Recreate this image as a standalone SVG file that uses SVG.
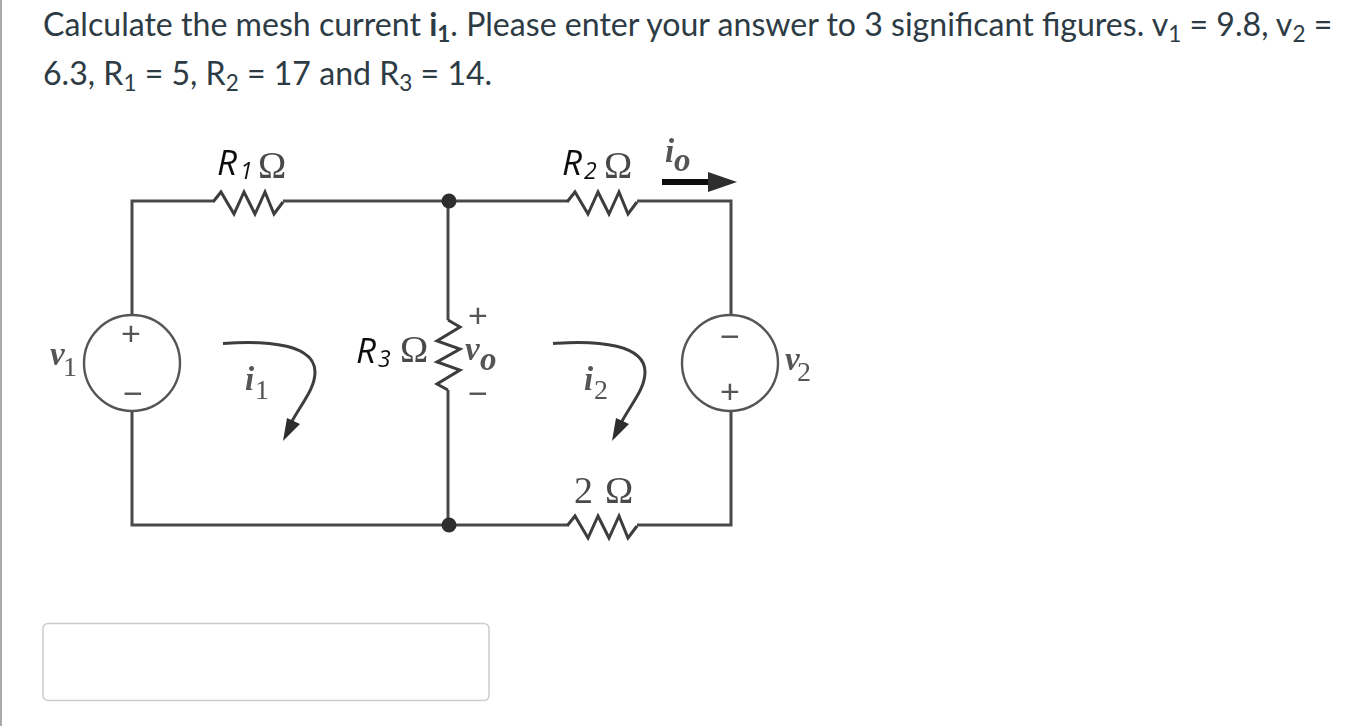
<svg xmlns="http://www.w3.org/2000/svg" width="1354" height="726" viewBox="0 0 1354 726">
<defs>
<filter id="soft" x="-5%" y="-5%" width="110%" height="110%"><feGaussianBlur stdDeviation="0.6"/></filter>
<path id="zig" d="M0 0 L8 -10 L21 12 L31 -10 L42 12 L52 -10 L61 12 L70 0"/>
<path id="mesh" d="M223 343.500 C270 340 315 345 315 372 C315 390 300 405 290 425"/>
<path id="meshhead" d="M283 441 L287 418 L300 424 Z"/>
</defs>
<style>
.q{font-family:"Lato","Open Sans",sans-serif;font-size:32.100px;fill:#2d3b45}
.w{fill:none;stroke:#4a4a4a;stroke-width:3}
.t{fill:none;stroke:#3d3d3d;stroke-width:3}
.c{fill:#fff;stroke:#555;stroke-width:2.400}
.n{fill:#2e2e2e}
.r{font-family:"Open Sans",sans-serif;font-style:italic;font-size:35px;fill:#111}
.rs{font-family:"Open Sans",sans-serif;font-style:italic;font-size:23px;fill:#111}
.o{font-family:"Liberation Serif",serif;font-size:38px;fill:#4a4a4a}
.m{font-family:"Liberation Serif",serif;font-style:italic;font-weight:bold;font-size:33px;fill:#555}
.ms{font-family:"Liberation Serif",serif;font-size:28px;fill:#555}
.p{font-family:"Liberation Sans",sans-serif;font-size:34px;fill:#555;text-anchor:middle}
</style>
<rect width="1354" height="726" fill="#fff"/>
<rect x="0" y="0" width="2" height="726" fill="#aaa"/>
<g id="question">
<text class="q" x="43" y="36">Calculate the mesh current <tspan font-weight="bold">i<tspan font-size="22.500" dy="6">1</tspan></tspan><tspan dy="-6">. Please enter your answer to 3 significant figures. v</tspan><tspan font-size="22.500" dy="6">1</tspan><tspan dy="-6"> = 9.8, v</tspan><tspan font-size="22.500" dy="6">2</tspan><tspan dy="-6"> =</tspan></text>
<text class="q" x="43" y="85">6.3, R<tspan font-size="22.500" dy="6">1</tspan><tspan dy="-6"> = 5, R</tspan><tspan font-size="22.500" dy="6">2</tspan><tspan dy="-6"> = 17 and R</tspan><tspan font-size="22.500" dy="6">3</tspan><tspan dy="-6"> = 14.</tspan></text>
</g>
<g id="answer-box"><rect x="43" y="623.500" width="446" height="77" rx="5" fill="#fff" stroke="#ccc" stroke-width="1.500"/></g>
<g filter="url(#soft)">
<g id="connectors">
<path class="w" d="M132 315 V201 H213 M283 201 H448 H567 M637 201 H731 V315"/>
<path class="w" d="M132 411 V525 H448 H567 M637 525 H731 V411"/>
<path class="w" d="M448 201 V320 M448 390 V525"/>
</g>
<g id="R1"><use href="#zig" class="t" x="213" y="202"/><text class="r" x="217" y="175">R</text><text class="rs" x="240" y="179">1</text><text class="o" x="258" y="178">Ω</text></g>
<g id="R2"><use href="#zig" class="t" x="567" y="202"/><text class="r" x="562" y="175">R</text><text class="rs" x="584" y="179">2</text><text class="o" x="604" y="178">Ω</text></g>
<g id="R4"><use href="#zig" class="t" x="567" y="526"/><text class="o" x="574" y="503">2</text><text class="o" x="605" y="503">Ω</text></g>
<g id="R3"><path class="t" d="M448 320 L460 327 L437 341 L460 349 L437 362 L460 370 L437 384 L448 390"/><text class="r" x="356" y="363">R</text><text class="rs" x="378" y="367">3</text><text class="o" x="400" y="362">Ω</text></g>
<g id="V1"><circle class="c" cx="132" cy="363" r="48"/><text class="p" x="131" y="345">+</text><text class="p" x="133" y="405">−</text><text class="m" x="50" y="365">v</text><text class="ms" x="63" y="376">1</text></g>
<g id="V2"><circle class="c" cx="730" cy="363" r="48"/><text class="p" x="730" y="348">−</text><text class="p" x="730" y="403">+</text><text class="m" x="785" y="370">v</text><text class="ms" x="797" y="381">2</text></g>
<g id="J1"><circle class="n" cx="449" cy="201" r="7.500"/></g>
<g id="J2"><circle class="n" cx="449" cy="525" r="7.500"/></g>
<g id="vo"><text class="p" x="478" y="327">+</text><text class="p" x="478" y="405">−</text><text class="m" x="465" y="360">v</text><text class="m" x="480" y="370" font-size="26">o</text></g>
<g id="i1"><use href="#mesh" class="t"/><use href="#meshhead" class="n"/><text class="m" x="245" y="390">i</text><text class="ms" x="255" y="399">1</text></g>
<g id="i2"><use href="#mesh" class="t" x="330"/><use href="#meshhead" class="n" x="329"/><text class="m" x="584" y="390">i</text><text class="ms" x="594" y="399">2</text></g>
<g id="io"><path d="M662 182 H712" fill="none" stroke="#111" stroke-width="6"/><path class="n" fill="#111" d="M708 172 L737 182 L708 192 Z"/><text class="m" x="665" y="162">i</text><text class="m" x="674" y="171" font-size="26">o</text></g>
</g>
</svg>
